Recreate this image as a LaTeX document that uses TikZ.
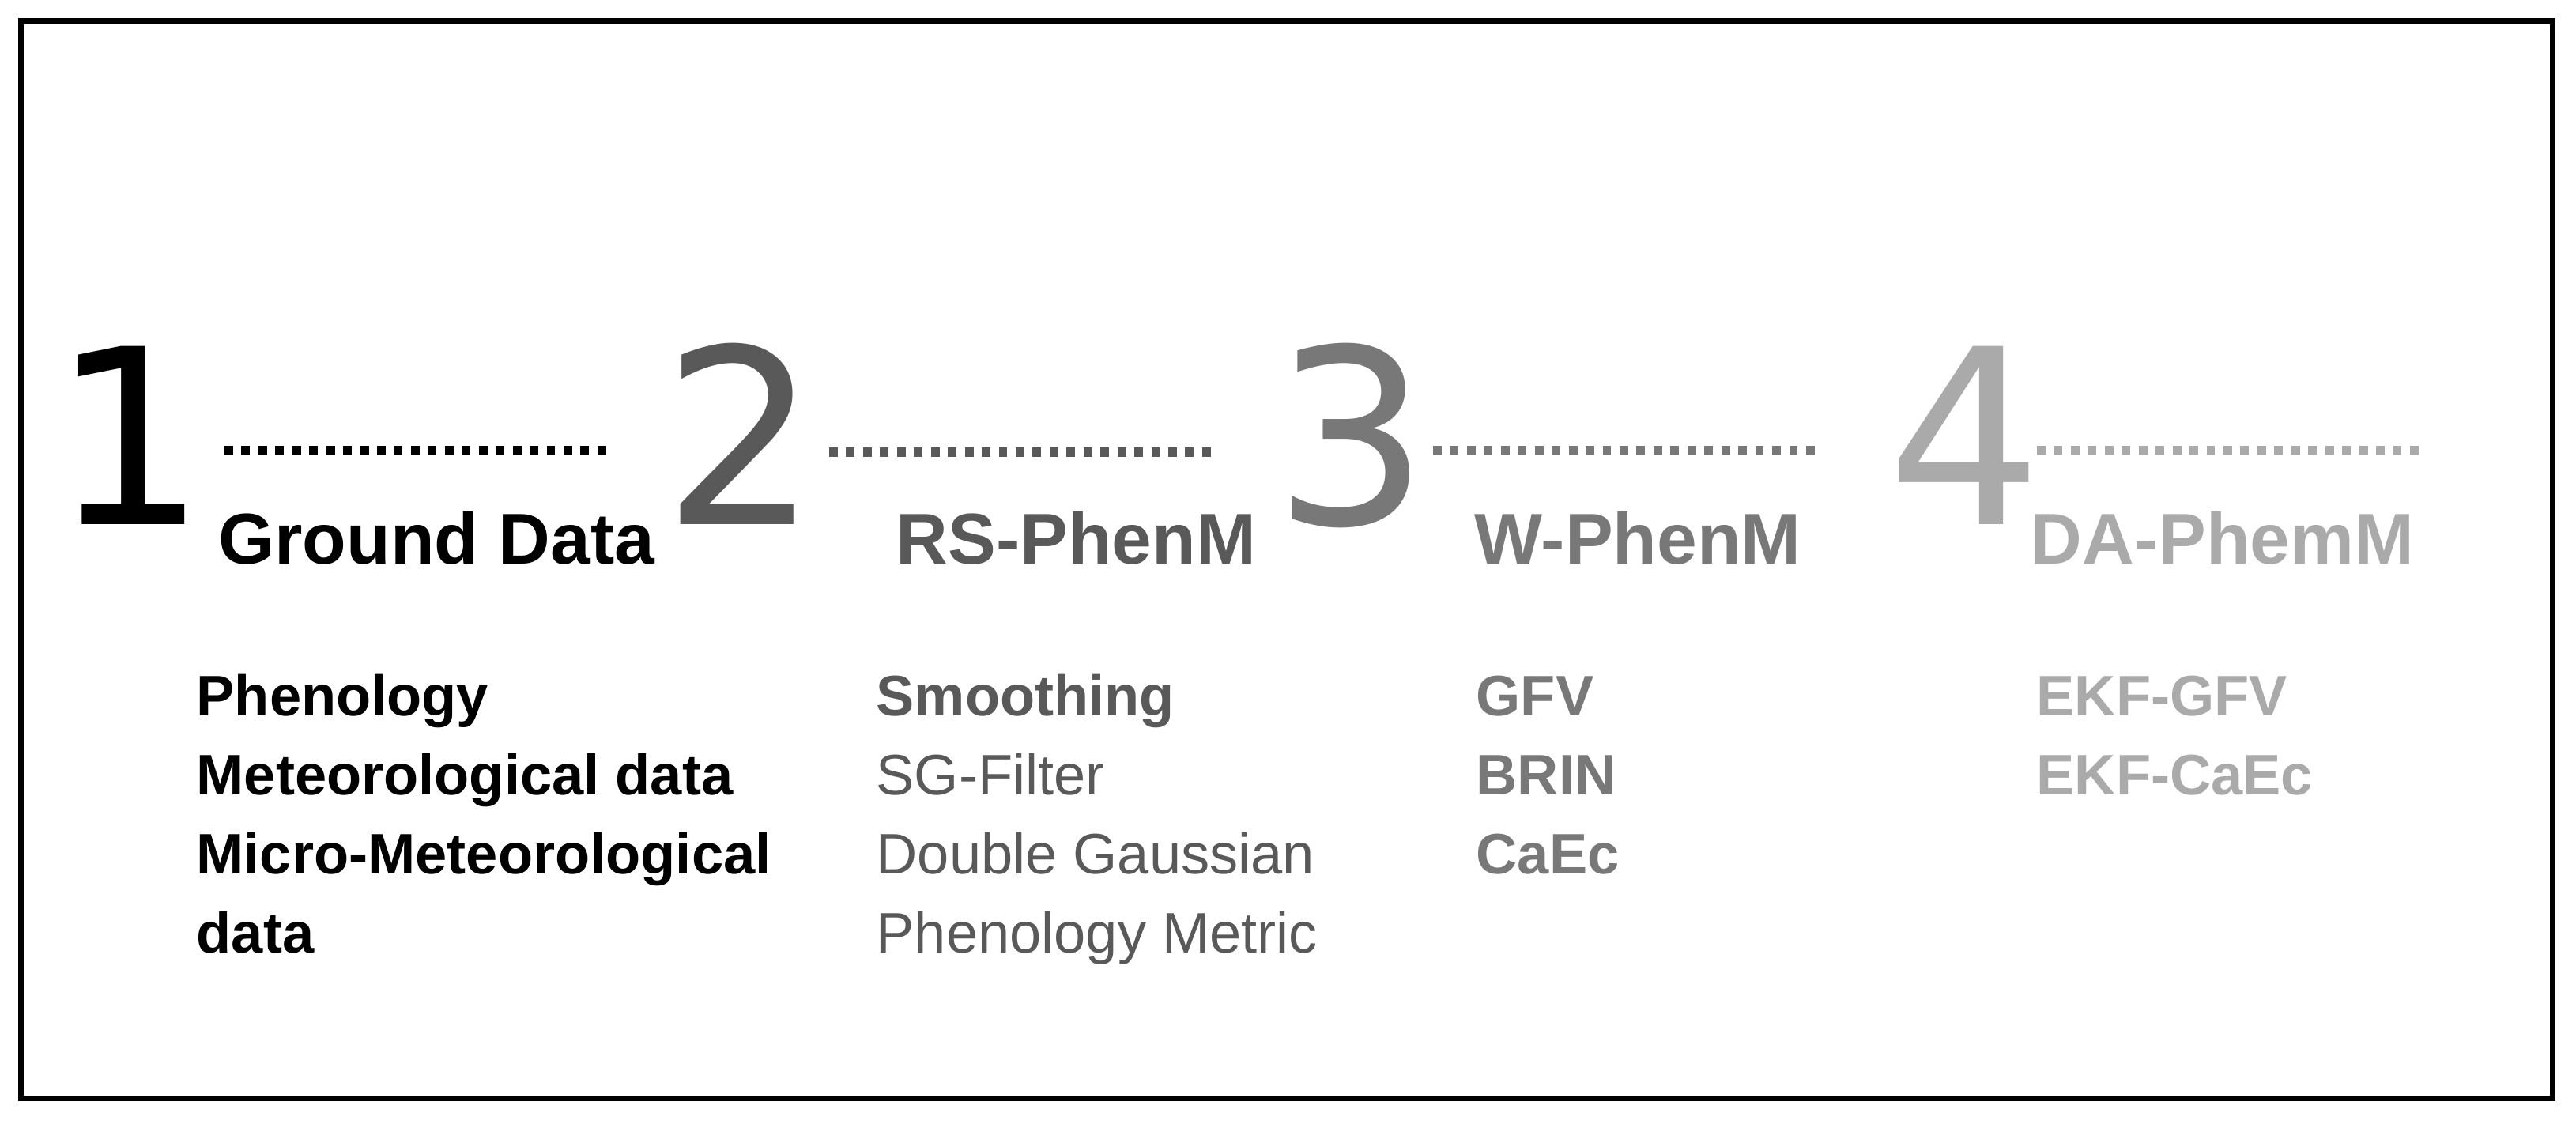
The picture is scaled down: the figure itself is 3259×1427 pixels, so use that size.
\documentclass[tikz,border=0pt]{standalone}
\usepackage{fontspec}
\setmainfont{Liberation Sans}
\newfontfamily\digitfont{DejaVu Sans}
\usetikzlibrary{positioning}

\definecolor{stepone}{HTML}{000000}
\definecolor{steptwo}{HTML}{595959}
\definecolor{stepthree}{HTML}{787878}
\definecolor{stepfour}{HTML}{AAAAAA}

\tikzset{
  numeral/.style={anchor=base, inner sep=0pt, font=\digitfont\fontsize{87.9}{90}\selectfont},
  heading/.style={anchor=base west, inner sep=0pt, font=\bfseries\fontsize{25.9}{28}\selectfont},
  entry/.style={anchor=base west, inner sep=0pt, font=\fontsize{20.55}{24}\selectfont},
  boldentry/.style={entry, font=\bfseries\fontsize{20.55}{24}\selectfont},
  dotline/.style={line width=3.4pt, dash pattern=on 3.1pt off 3.0pt},
  frame/.style={line width=2pt}
}

\begin{document}
\begin{tikzpicture}[x=0.01cm,y=-0.01cm]
    \useasboundingbox (0,0) rectangle (3259,1427);
    \draw[frame] (26.5,26.5) rectangle (3229.5,1389.5);

    % step numbers
    \node[numeral, stepone] (n1) at (164,663) {1};
    \node[numeral, steptwo] (n2) at (937,663) {2};
    \node[numeral, stepthree] (n3) at (1710,663) {3};
    \node[numeral, stepfour] (n4) at (2486,663) {4};

    % dotted rules
    \coordinate (d1a) at (284,570);  \coordinate (d1b) at (768,570);
    \coordinate (d2a) at (1049,572); \coordinate (d2b) at (1533,572);
    \coordinate (d3a) at (1813,570); \coordinate (d3b) at (2297,570);
    \coordinate (d4a) at (2577,570); \coordinate (d4b) at (3061,570);
    \draw[dotline, stepone] (d1a) -- (d1b);
    \draw[dotline, steptwo] (d2a) -- (d2b);
    \draw[dotline, stepthree] (d3a) -- (d3b);
    \draw[dotline, stepfour] (d4a) -- (d4b);

    % headings
    \node[heading, stepone] (h1) at (276,713) {Ground Data};
    \node[heading, steptwo] (h2) at (1133,713) {RS-PhenM};
    \node[heading, stepthree] (h3) at (1865,713) {W-PhenM};
    \node[heading, stepfour] (h4) at (2568,713) {DA-PhemM};

    % items
    \foreach \t [count=\i] in {Phenology,Meteorological data,Micro-Meteorological,data}
        \node[boldentry, stepone] (a\i) at (248,805+\i*100) {\t};
    \node[boldentry, steptwo] (b1) at (1108,905) {Smoothing};
    \foreach \t [count=\i from 2] in {SG-Filter,Double Gaussian,Phenology Metric}
        \node[entry, steptwo] (b\i) at (1108,805+\i*100) {\t};
    \foreach \t [count=\i] in {GFV,BRIN,CaEc}
        \node[boldentry, stepthree] (c\i) at (1867,805+\i*100) {\t};
    \foreach \t [count=\i] in {EKF-GFV,EKF-CaEc}
        \node[boldentry, stepfour] (e\i) at (2576,805+\i*100) {\t};
\end{tikzpicture}
\end{document}
